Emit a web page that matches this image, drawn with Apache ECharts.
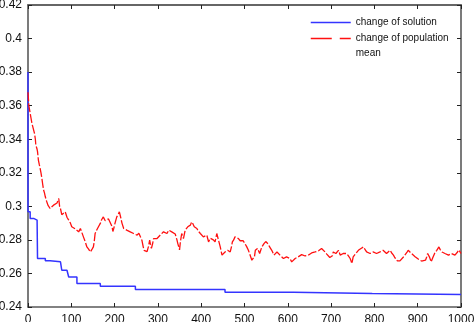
<!DOCTYPE html>
<html>
<head>
<meta charset="utf-8">
<script src="https://cdn.jsdelivr.net/npm/echarts@6/dist/echarts.min.js"></script>
<style>html,body{margin:0;padding:0;background:#fff}#c{width:474px;height:322px}</style>
</head>
<body>
<div id="c"></div>
<script>
// x axis tick labels / ranges
const xTicks = [0, 100, 200, 300, 400, 500, 600, 700, 800, 900, 1000];
const yTicks = [0.24, 0.26, 0.28, 0.3, 0.32, 0.34, 0.36, 0.38, 0.4, 0.42];
const seriesNames = ['change of solution', 'change of population\nmean'];

// change of solution (step curve) : iteration, value
const solX = [0, 0, 5, 13, 21, 22, 40, 51, 75, 78, 90, 94, 113, 167, 248, 455, 613, 795, 1000];
const solY = [0.380, 0.2967, 0.2928, 0.2918, 0.2918, 0.2689, 0.2675, 0.2669, 0.2659, 0.2619, 0.2609, 0.2579, 0.2540, 0.2524, 0.2504, 0.2488, 0.2480, 0.2474, 0.2474];

// change of population mean : iteration, value
const meanX = [0,2,5,7,9,11,13,15,17,18,21,22,24,26,28,30,32,34,36,38,40,43,46,48,51,55,59,63,67,71,73,75,78,82,86,90,94,98,101,105,109,113,117,121,125,128,132,136,140,144,148,151,153,155,159,163,167,170,174,178,182,186,190,194,196,198,201,205,208,211,214,217,221,224,228,232,236,240,244,248,252,256,259,263,266,268,271,275,278,281,283,285,288,290,294,298,301,305,309,313,317,321,325,328,332,336,340,344,346,348,350,352,355,359,363,366,369,372,375,378,381,384,387,390,394,398,401,405,409,413,417,421,425,428,432,436,440,444,448,451,455,458,461,464,467,470,472,475,478,482,486,490,494,497,501,505,509,513,517,521,523,525,530,535,540,545,549,552,555,558,563,568,572,575,579,582,586,590,594,597,601,605,609,613,617,621,624,628,632,636,640,644,648,651,655,659,663,667,671,675,678,682,686,690,693,697,700,703,705,708,711,714,717,719,721,725,728,732,736,740,744,746,748,751,754,757,760,763,766,769,772,775,779,782,786,790,793,797,801,805,809,813,817,820,824,828,832,836,840,844,847,850,853,855,859,863,867,871,875,878,882,886,890,894,898,902,905,909,913,918,921,923,925,927,929,931,935,939,944,949,952,956,960,963,967,971,975,978,982,986,989,992,995,997,1000];
const meanY = [0.368,0.360,0.3555,0.3525,0.3495,0.3475,0.3465,0.3435,0.3400,0.3366,0.3340,0.3326,0.3276,0.3250,0.3226,0.3200,0.3167,0.3130,0.3097,0.3080,0.3057,0.3030,0.3007,0.3017,0.2987,0.2995,0.3007,0.2997,0.3020,0.3047,0.3000,0.2987,0.2950,0.2955,0.2967,0.2935,0.2918,0.2900,0.2878,0.2885,0.2866,0.2860,0.2848,0.2868,0.2868,0.2818,0.2790,0.2758,0.2745,0.2728,0.2745,0.2758,0.2790,0.2838,0.2860,0.2880,0.2898,0.2920,0.2937,0.2915,0.2907,0.2925,0.2928,0.2880,0.2850,0.2868,0.2900,0.2937,0.2950,0.2967,0.2935,0.2900,0.2868,0.2870,0.2858,0.2858,0.2848,0.2845,0.2838,0.2842,0.2828,0.2840,0.2848,0.2798,0.2760,0.2738,0.2728,0.2730,0.2758,0.2798,0.2770,0.2749,0.2780,0.2808,0.2808,0.2808,0.2815,0.2828,0.2835,0.2848,0.2842,0.2838,0.2858,0.2858,0.2848,0.2840,0.2835,0.2800,0.2778,0.2760,0.2740,0.2790,0.2838,0.2808,0.2858,0.2868,0.2878,0.2870,0.2888,0.2907,0.2895,0.2878,0.2875,0.2868,0.2850,0.2838,0.2830,0.2818,0.2815,0.2828,0.2788,0.2810,0.2818,0.2800,0.2788,0.2838,0.2798,0.2758,0.2709,0.2720,0.2728,0.2735,0.2738,0.2745,0.2728,0.2760,0.2788,0.2800,0.2818,0.2812,0.2808,0.2795,0.2788,0.2795,0.2798,0.2760,0.2738,0.2728,0.2679,0.2669,0.2700,0.2738,0.2749,0.2719,0.2758,0.2778,0.2790,0.2798,0.2775,0.2758,0.2738,0.2709,0.2720,0.2728,0.2718,0.2709,0.2700,0.2689,0.2695,0.2699,0.2694,0.2689,0.2669,0.2680,0.2689,0.2699,0.2699,0.2709,0.2712,0.2709,0.2704,0.2699,0.2710,0.2719,0.2722,0.2719,0.2728,0.2730,0.2735,0.2738,0.2749,0.2738,0.2728,0.2715,0.2705,0.2695,0.2689,0.2705,0.2728,0.2722,0.2719,0.2728,0.2738,0.2725,0.2709,0.2715,0.2719,0.2722,0.2719,0.2705,0.2689,0.2675,0.2659,0.2699,0.2710,0.2719,0.2728,0.2738,0.2745,0.2749,0.2752,0.2758,0.2740,0.2728,0.2722,0.2719,0.2725,0.2728,0.2725,0.2719,0.2724,0.2728,0.2733,0.2738,0.2728,0.2719,0.2730,0.2738,0.2722,0.2709,0.2695,0.2685,0.2675,0.2669,0.2675,0.2685,0.2698,0.2709,0.2725,0.2738,0.2728,0.2718,0.2709,0.2700,0.2689,0.2684,0.2679,0.2674,0.2669,0.2679,0.2700,0.2719,0.2709,0.2699,0.2685,0.2669,0.2695,0.2719,0.2738,0.2758,0.2742,0.2728,0.2724,0.2719,0.2714,0.2709,0.2715,0.2719,0.2714,0.2709,0.2718,0.2728,0.2740,0.2743,0.2719];

const chart = echarts.init(document.getElementById('c'), null, {renderer: 'canvas'});
const xMin = xTicks[0], xMax = xTicks[xTicks.length - 1], xInt = xTicks[1] - xTicks[0];
const yMin = yTicks[0], yMax = yTicks[yTicks.length - 1], yInt = 0.02;
const axisCol = '#5a5a5a';
const lbl = {fontFamily: 'Liberation Sans', fontSize: 12, color: '#111'};
const baseX = {
  type: 'value', min: xMin, max: xMax, interval: xInt,
  splitLine: {show: false},
  axisLine: {show: true, onZero: false, lineStyle: {color: axisCol, width: 1.6}},
  axisTick: {show: true, inside: true, length: 4, lineStyle: {color: '#222', width: 1}}
};
const baseY = {
  type: 'value', min: yMin, max: yMax, interval: yInt,
  splitLine: {show: false},
  axisLine: {show: true, onZero: false, lineStyle: {color: axisCol, width: 1.6}},
  axisTick: {show: true, inside: true, length: 4, lineStyle: {color: '#222', width: 1}}
};
const legText = {fontFamily: 'Liberation Sans', fontSize: 10, color: '#111', lineHeight: 15};
const legCommon = {
  left: 310, orient: 'vertical', padding: 0,
  itemWidth: 40, itemHeight: 14,
  itemStyle: {color: 'rgba(0,0,0,0)', borderWidth: 0, opacity: 0},
  textStyle: legText
};
chart.setOption({
  animation: false,
  backgroundColor: '#fff',
  grid: {left: 28, right: 13, top: 5, bottom: 15, containLabel: false, outerBoundsMode: 'none'},
  xAxis: [
    Object.assign({}, baseX, {position: 'bottom', axisLabel: Object.assign({margin: 7, showMaxLabel: true, formatter: v => String(v)}, lbl)}),
    Object.assign({}, baseX, {position: 'top', axisLabel: {show: false}, axisLine: {show: true, onZero: false, lineStyle: {color: '#666', width: 2}}})
  ],
  yAxis: [
    Object.assign({}, baseY, {position: 'left', axisLabel: Object.assign({margin: 6, formatter: v => String(+v.toFixed(2))}, lbl)}),
    Object.assign({}, baseY, {position: 'right', axisLabel: {show: false}})
  ],
  legend: [
    Object.assign({}, legCommon, {
      top: 15,
      data: [{name: seriesNames[0], lineStyle: {type: 'solid', width: 1.5}}]
    }),
    Object.assign({}, legCommon, {
      top: 16,
      formatter: name => '\n' + name,
      data: [{name: seriesNames[1], lineStyle: {type: [21, 8], width: 1.5}}]
    })
  ],
  series: [
    {
      name: seriesNames[0], type: 'line', showSymbol: false, symbol: 'none', step: 'end',
      data: solX.map((x, i) => [x, solY[i]]),
      lineStyle: {color: '#3434ff', width: 1.5},
      itemStyle: {color: '#3434ff'}
    },
    {
      name: seriesNames[1], type: 'line', showSymbol: false, symbol: 'none',
      data: meanX.map((x, i) => [x, meanY[i]]),
      lineStyle: {color: '#ff1010', width: 1.3, type: [9, 2]},
      itemStyle: {color: '#ff1010'}
    }
  ]
});
</script>
</body>
</html>
